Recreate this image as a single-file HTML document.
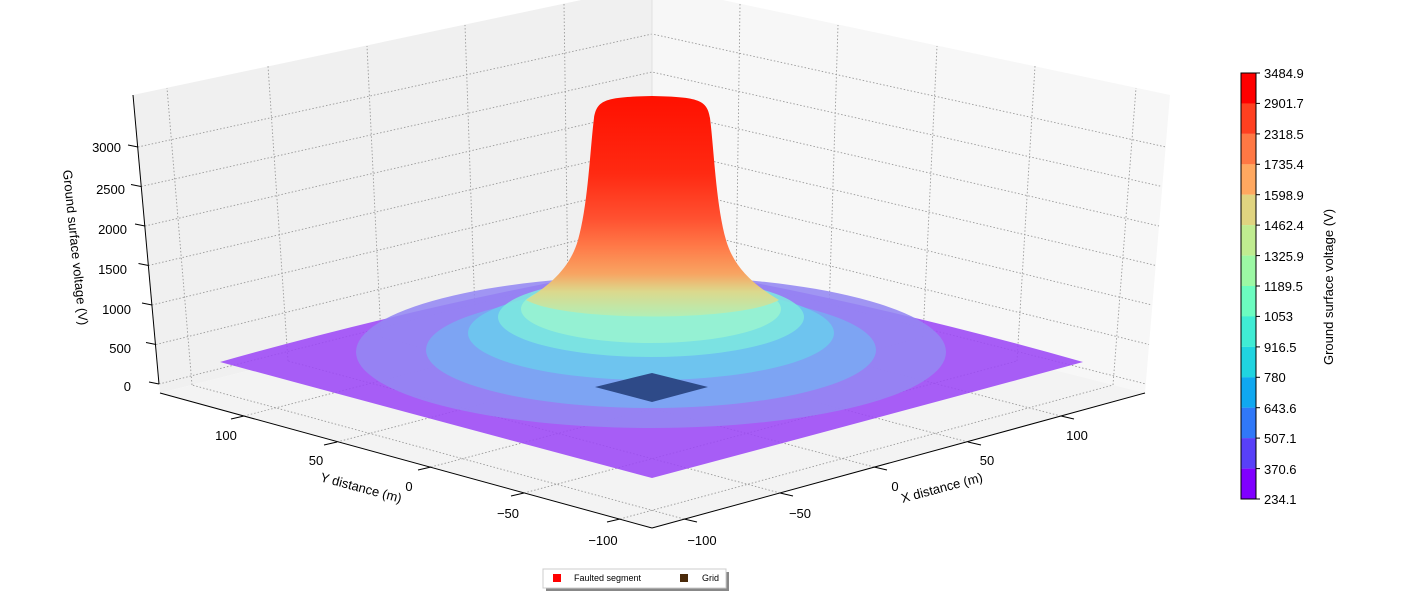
<!DOCTYPE html>
<html><head><meta charset="utf-8"><style>
html,body{margin:0;padding:0;background:#fff;}
svg{display:block;font-family:"Liberation Sans","DejaVu Sans",sans-serif;}
</style></head><body>
<svg width="1410" height="610" viewBox="0 0 1410 610" xmlns="http://www.w3.org/2000/svg">
<defs>
<linearGradient id="pk" x1="0" y1="96" x2="0" y2="318" gradientUnits="userSpaceOnUse">
<stop offset="0" stop-color="#ff1000"/>
<stop offset="0.35" stop-color="#ff2a12"/>
<stop offset="0.55" stop-color="#ff5030"/>
<stop offset="0.68" stop-color="#ff7a48"/>
<stop offset="0.8" stop-color="#f8a462"/>
<stop offset="0.88" stop-color="#dcd88c"/>
<stop offset="1" stop-color="#b0f0b8"/>
</linearGradient>
</defs>
<polygon points="133,95 652,-15 652,268 160,393" fill="#f0f0f0"/>
<polygon points="652,-15 1170,95 1145,393 652,268" fill="#f7f7f7"/>
<polygon points="160,393 652,268 1145,393 652,528" fill="#f3f3f3"/>
<g stroke="#9a9a9a" stroke-width="0.9" stroke-dasharray="1.5,2" fill="none">
<line x1="684" y1="519" x2="192" y2="385"/><line x1="780" y1="493" x2="288" y2="361"/>
<line x1="874" y1="467" x2="381" y2="337"/><line x1="968" y1="442" x2="475" y2="313"/>
<line x1="1061" y1="416" x2="568" y2="289"/>
<line x1="620" y1="519" x2="1113" y2="385"/><line x1="524" y1="493" x2="1017" y2="361"/>
<line x1="431" y1="467" x2="923" y2="337"/><line x1="337" y1="442" x2="829" y2="313"/>
<line x1="244" y1="416" x2="736" y2="289"/>
<line x1="192" y1="385" x2="167" y2="88"/><line x1="288" y1="361" x2="268" y2="66"/>
<line x1="381" y1="337" x2="367" y2="46"/><line x1="475" y1="313" x2="465" y2="25"/>
<line x1="568" y1="289" x2="564" y2="4"/>
<line x1="1113" y1="385" x2="1136" y2="88"/><line x1="1017" y1="361" x2="1035" y2="66"/>
<line x1="923" y1="337" x2="937" y2="46"/><line x1="829" y1="313" x2="838" y2="25"/>
<line x1="736" y1="289" x2="740" y2="4"/>
<polyline points="159,384 652,259.5 1146,384"/>
<polyline points="156,344.5 652,222 1149,344.5"/>
<polyline points="152,305 652,184 1152,305"/>
<polyline points="148.5,265.5 652,147 1156,265.5"/>
<polyline points="145,226 652,109 1159,226"/>
<polyline points="141,186.5 652,72 1162,186.5"/>
<polyline points="138,147 652,34 1166,147"/>
</g>
<line x1="652" y1="0" x2="652" y2="268" stroke="#e0e0e0" stroke-width="1"/>
<path d="M220,362 Q440,300 652,264 Q865,300 1083,362 Q870,420 652,478 Q435,420 220,362 Z" fill="#9c48f6" fill-opacity="0.88"/>
<ellipse cx="651" cy="352" rx="295" ry="76" fill="#9488f2" fill-opacity="0.88"/>
<ellipse cx="651" cy="350" rx="225" ry="58" fill="#7aa8f2" fill-opacity="0.88"/>
<ellipse cx="651" cy="333" rx="183" ry="47" fill="#6cc8ee" fill-opacity="0.88"/>
<ellipse cx="651" cy="317" rx="153" ry="40" fill="#7de6e0" fill-opacity="0.88"/>
<ellipse cx="651" cy="309" rx="130" ry="34" fill="#98f2d0" fill-opacity="0.88"/>
<path d="M526,300 C550,285 570,268 578,240 C588,205 590,150 594,118 C597,100 605,97 652,96 C699,97 707,100 710,118 C714,150 716,205 726,240 C734,268 754,285 779,300 C740,322 564,322 526,300 Z" fill="url(#pk)"/>
<polygon points="595,387 652,373 708,387 652,402" fill="#2e4a88"/>
<g stroke="#000" stroke-width="1" fill="none">
<line x1="133" y1="95" x2="159" y2="384"/>
<line x1="160" y1="393" x2="652" y2="528"/>
<line x1="652" y1="528" x2="1145" y2="393"/>
<line x1="159" y1="384" x2="149" y2="382"/><line x1="156" y1="344.5" x2="146" y2="342.5"/>
<line x1="152" y1="305" x2="142" y2="303"/><line x1="148.5" y1="265.5" x2="138.5" y2="263.5"/>
<line x1="145" y1="226" x2="135" y2="224"/><line x1="141" y1="186.5" x2="131" y2="184.5"/>
<line x1="138" y1="147" x2="128" y2="145"/>
<line x1="620" y1="519" x2="607" y2="522"/><line x1="524" y1="493" x2="511" y2="496"/>
<line x1="431" y1="467" x2="418" y2="470"/><line x1="337" y1="442" x2="324" y2="445"/>
<line x1="244" y1="416" x2="231" y2="419"/>
<line x1="684" y1="519" x2="697" y2="522"/><line x1="780" y1="493" x2="793" y2="496"/>
<line x1="874" y1="467" x2="887" y2="470"/><line x1="968" y1="442" x2="981" y2="445"/>
<line x1="1061" y1="416" x2="1074" y2="419"/>
</g>
<g font-size="13" fill="#000" text-anchor="end">
<text x="131" y="391">0</text><text x="131" y="353">500</text><text x="131" y="314">1000</text>
<text x="127" y="274">1500</text><text x="127" y="234">2000</text><text x="125" y="194">2500</text>
<text x="121" y="152">3000</text>
</g>
<g font-size="13" fill="#000" text-anchor="middle">
<text x="603" y="545">−100</text><text x="508" y="518">−50</text><text x="409" y="491">0</text>
<text x="316" y="465">50</text><text x="226" y="440">100</text>
<text x="702" y="545">−100</text><text x="800" y="518">−50</text><text x="895" y="491">0</text>
<text x="987" y="465">50</text><text x="1077" y="440">100</text>
<text transform="translate(360,492) rotate(15)">Y distance (m)</text>
<text transform="translate(943,492) rotate(-15)">X distance (m)</text>
<text transform="translate(71,248) rotate(84)">Ground surface voltage (V)</text>
</g>
<g>
<rect x="1241" y="73" width="15" height="30.5" fill="#ff0000"/>
<rect x="1241" y="103.4" width="15" height="30.5" fill="#ff4020"/>
<rect x="1241" y="133.9" width="15" height="30.5" fill="#ff7844"/>
<rect x="1241" y="164.3" width="15" height="30.5" fill="#ffa860"/>
<rect x="1241" y="194.7" width="15" height="30.5" fill="#e0d480"/>
<rect x="1241" y="225.1" width="15" height="30.5" fill="#c0ec90"/>
<rect x="1241" y="255.6" width="15" height="30.5" fill="#9cf8a4"/>
<rect x="1241" y="286" width="15" height="30.5" fill="#6cfcc0"/>
<rect x="1241" y="316.4" width="15" height="30.5" fill="#40ecd4"/>
<rect x="1241" y="346.9" width="15" height="30.5" fill="#20d4e0"/>
<rect x="1241" y="377.3" width="15" height="30.5" fill="#10a8f0"/>
<rect x="1241" y="407.7" width="15" height="30.5" fill="#3078f8"/>
<rect x="1241" y="438.1" width="15" height="30.5" fill="#5840f8"/>
<rect x="1241" y="468.6" width="15" height="30.4" fill="#8000ff"/>
<rect x="1241" y="73" width="15" height="426" fill="none" stroke="#000" stroke-width="1"/>
</g>
<g stroke="#000" stroke-width="1">
<line x1="1256" y1="73" x2="1260" y2="73"/><line x1="1256" y1="103.4" x2="1260" y2="103.4"/>
<line x1="1256" y1="133.9" x2="1260" y2="133.9"/><line x1="1256" y1="164.3" x2="1260" y2="164.3"/>
<line x1="1256" y1="194.7" x2="1260" y2="194.7"/><line x1="1256" y1="225.1" x2="1260" y2="225.1"/>
<line x1="1256" y1="255.6" x2="1260" y2="255.6"/><line x1="1256" y1="286" x2="1260" y2="286"/>
<line x1="1256" y1="316.4" x2="1260" y2="316.4"/><line x1="1256" y1="346.9" x2="1260" y2="346.9"/>
<line x1="1256" y1="377.3" x2="1260" y2="377.3"/><line x1="1256" y1="407.7" x2="1260" y2="407.7"/>
<line x1="1256" y1="438.1" x2="1260" y2="438.1"/><line x1="1256" y1="468.6" x2="1260" y2="468.6"/>
<line x1="1256" y1="499" x2="1260" y2="499"/>
</g>
<g font-size="13" fill="#000">
<text x="1264" y="78">3484.9</text><text x="1264" y="108">2901.7</text>
<text x="1264" y="139">2318.5</text><text x="1264" y="169">1735.4</text>
<text x="1264" y="200">1598.9</text><text x="1264" y="230">1462.4</text>
<text x="1264" y="261">1325.9</text><text x="1264" y="291">1189.5</text>
<text x="1264" y="321">1053</text><text x="1264" y="352">916.5</text>
<text x="1264" y="382">780</text><text x="1264" y="413">643.6</text>
<text x="1264" y="443">507.1</text><text x="1264" y="474">370.6</text>
<text x="1264" y="504">234.1</text>
<text transform="translate(1333,287) rotate(-90)" text-anchor="middle">Ground surface voltage (V)</text>
</g>
<rect x="546" y="572" width="183" height="19" fill="#888"/>
<rect x="543" y="569" width="183" height="19" fill="#fff" stroke="#ccc" stroke-width="1"/>
<rect x="553" y="574" width="8" height="8" fill="#ff0000"/>
<text x="574" y="581" font-size="9">Faulted segment</text>
<rect x="680" y="574" width="8" height="8" fill="#4a2a0a"/>
<text x="702" y="581" font-size="9">Grid</text>
</svg>
</body></html>
